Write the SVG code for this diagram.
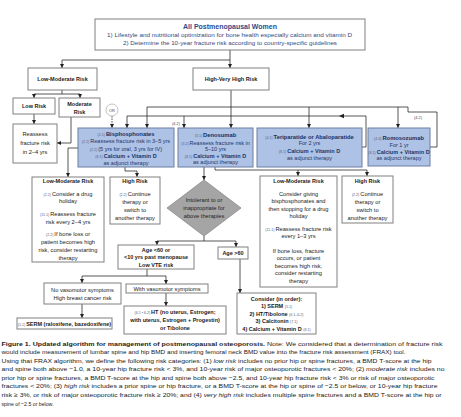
<svg xmlns="http://www.w3.org/2000/svg" width="461" height="417" viewBox="0 0 461 417">
<defs>
<marker id="ah" viewBox="0 0 6 6" refX="6" refY="3" markerWidth="4" markerHeight="4" markerUnits="userSpaceOnUse" orient="auto"><path d="M0,0 L6,3 L0,6 z" fill="#222"/></marker>
<style>
text{font-family:"Liberation Sans",Arial,sans-serif;}
.b{font-weight:bold}
.ref{font-size:3.6px;font-weight:normal;fill:#55627f}
.box{fill:#fff;stroke:#808080;stroke-width:1}
.blue{fill:#adc2e5;stroke:#6d7fa3;stroke-width:1}
.ln{fill:none;stroke:#2b2b2b;stroke-width:0.8}
.ar{marker-end:url(#ah)}
.wt{fill:#222;font-size:5.7px;text-anchor:middle}
.wh{fill:#1a1a1a;font-size:5.5px;font-weight:bold;text-anchor:middle}
.bt{fill:#1f3468;font-size:5.5px;text-anchor:middle}
.bh{fill:#1b2f63;font-size:5.8px;font-weight:bold}
.cap{fill:#1a1a1a;font-size:6.2px}
</style>
</defs>
<rect width="461" height="417" fill="#fff"/>

<g id="connectors">
<path class="ln ar" d="M230,50 V68"/>
<path class="ln ar" d="M230,60 H62 V68"/>
<path class="ln ar" d="M62,90 V94 H34 V98"/>
<path class="ln ar" d="M62,94 H80 V98"/>
<path class="ln ar" d="M34,114 V124"/>
<path class="ln ar" d="M71,117 V143 H57"/>
<path class="ln ar" d="M112,116 V128" stroke-dasharray="1.5,1"/>
<path class="ln ar" d="M231,90 V128"/>
<path class="ln" d="M147,107 H408"/>
<path class="ln ar" d="M147,107 V128"/>
<path class="ln ar" d="M309,107 V128"/>
<path class="ln ar" d="M398,107 V128"/>
<path class="ln" d="M430,147 H437 V112 H408 V107"/>
<path class="ln ar" d="M362,147 H366 V116 H127 V128"/>
<path class="ln ar" d="M184,116 V128"/>
<polygon points="339,116 344,113.8 344,118.2" fill="#222"/>
<path class="ln ar" d="M78,148 H68 V177"/>
<path class="ln ar" d="M125,167 V171 H137 V177"/>
<path class="ln ar" d="M204,167 V180"/>
<path class="ln ar" d="M215,167 V170 H367 V176"/>
<path class="ln ar" d="M298,170 V176"/>
<path class="ln" d="M204,236 V241 M157,241 H236"/>
<path class="ln ar" d="M157,241 V245"/>
<path class="ln ar" d="M236,241 V247"/>
<path class="ln ar" d="M240,259 V293"/>
<path class="ln" d="M147,269 V276 M82,276 H166"/>
<path class="ln ar" d="M82,276 V283"/>
<path class="ln ar" d="M166,276 V284"/>
<path class="ln ar" d="M82,304 V318"/>
<path class="ln ar" d="M166,293 V306"/>
<text x="176" y="125" font-size="3.8" fill="#444" text-anchor="middle">(4.2)</text>
<text x="418" y="119" font-size="3.8" fill="#444" text-anchor="middle">(4.2)</text>
</g>

<g id="n-all">
<rect x="95" y="19" width="270" height="31" class="box" stroke-width="1.3"/>
<text x="230" y="28.5" class="b" font-size="7" fill="#2f4a8a" text-anchor="middle">All Postmenopausal Women</text>
<text x="107" y="37" font-size="5.8" fill="#34497e" textLength="245" lengthAdjust="spacingAndGlyphs">1) Lifestyle and nutritional optimization for bone health especially calcium and vitamin D</text>
<text x="123" y="45" font-size="5.8" fill="#34497e" textLength="214" lengthAdjust="spacingAndGlyphs">2) Determine the 10-year fracture risk according to country-specific guidelines</text>
</g>

<g id="n-lowmod"><rect x="28" y="68" width="69" height="22" class="box"/><text x="62.5" y="81" class="wh">Low-Moderate Risk</text></g>
<g id="n-hvh"><rect x="193" y="68" width="76" height="22" class="box"/><text x="231" y="81" class="wh">High-Very High Risk</text></g>
<g id="n-low"><rect x="13" y="98" width="42" height="16" class="box"/><text x="34" y="108.3" class="wh">Low Risk</text></g>
<g id="n-mod"><rect x="59" y="98" width="41" height="19" class="box"/><text x="79.5" y="106" class="wh">Moderate</text><text x="79.5" y="114" class="wh">Risk</text></g>
<g id="n-or"><circle cx="112" cy="110" r="6" fill="#fff" stroke="#aaa" stroke-width="0.7"/><text x="112" y="111.5" font-size="4" fill="#444" text-anchor="middle">OR</text></g>
<g id="n-reassess"><rect x="13" y="124" width="44" height="39" class="box"/>
<text x="35" y="136" class="wt">Reassess</text><text x="35" y="145" class="wt">fracture risk</text><text x="35" y="153.5" class="wt">in 2–4 yrs</text></g>

<g id="n-bisph"><rect x="78" y="128" width="96" height="39" class="blue"/>
<text x="126" y="135.5" class="bt"><tspan class="ref">(2.1) </tspan><tspan class="bh">Bisphosphonates</tspan></text>
<text x="126" y="143" class="bt"><tspan class="ref">(2.2) </tspan>Reassess fracture risk in 3–5 yrs</text>
<text x="126" y="150.5" class="bt"><tspan class="ref">(2.2) </tspan>(5 yrs for oral, 3 yrs for IV)</text>
<text x="126" y="158" class="bt" font-size="5.3"><tspan class="ref">(8.1) </tspan><tspan class="b">Calcium + Vitamin D</tspan></text>
<text x="126" y="164.5" class="bt" font-size="5.2">as adjunct therapy</text></g>

<g id="n-deno"><rect x="178" y="128" width="75" height="39" class="blue"/>
<text x="215.5" y="137" class="bt"><tspan class="ref">(3.1) </tspan><tspan class="bh">Denosumab</tspan></text>
<text x="215.5" y="144.5" class="bt"><tspan class="ref">(3.2) </tspan>Reassess fracture risk in</text>
<text x="215.5" y="151" class="bt">5–10 yrs</text>
<text x="215.5" y="157.5" class="bt" font-size="5.3"><tspan class="ref">(8.1) </tspan><tspan class="b">Calcium + Vitamin D</tspan></text>
<text x="215.5" y="163.5" class="bt" font-size="5.2">as adjunct therapy</text></g>

<g id="n-teri"><rect x="257" y="128" width="105" height="39" class="blue"/>
<text x="309.5" y="138.5" class="bt"><tspan class="ref">(4.1) </tspan><tspan class="bh">Teriparatide or Abaloparatide</tspan></text>
<text x="309.5" y="145" class="bt">For 2 yrs</text>
<text x="309.5" y="153" class="bt" font-size="5.3"><tspan class="ref">(8.1) </tspan><tspan class="b">Calcium + Vitamin D</tspan></text>
<text x="309.5" y="159.5" class="bt" font-size="5.2">as adjunct therapy</text></g>

<g id="n-romo"><rect x="368" y="128" width="62" height="38" class="blue"/>
<text x="399" y="140" class="bt"><tspan class="ref">(4.3) </tspan><tspan class="bh">Romosozumab</tspan></text>
<text x="399" y="146.5" class="bt">For 1 yr</text>
<text x="399" y="153.5" class="bt" font-size="5"><tspan class="ref">(8.1) </tspan><tspan class="b">Calcium + Vitamin D</tspan></text>
<text x="399" y="159.5" class="bt" font-size="5">as adjunct therapy</text></g>

<g id="n-lm1"><rect x="32" y="177" width="72" height="85" class="box"/>
<text x="68" y="183" class="wh">Low-Moderate Risk</text>
<text x="68" y="196" class="wt"><tspan class="ref">(2.2) </tspan>Consider a drug</text>
<text x="68" y="203" class="wt">holiday</text>
<text x="68" y="216" class="wt"><tspan class="ref">(11.1) </tspan>Reassess fracture</text>
<text x="68" y="223.5" class="wt">risk every 2–4 yrs</text>
<text x="68" y="236" class="wt"><tspan class="ref">(2.2) </tspan>If bone loss or</text>
<text x="68" y="244" class="wt">patient becomes high</text>
<text x="68" y="252" class="wt">risk, consider restarting</text>
<text x="68" y="259.5" class="wt">therapy</text></g>

<g id="n-hr1"><rect x="110" y="177" width="50" height="47" class="box"/>
<text x="135" y="183" class="wh">High Risk</text>
<text x="135" y="196" class="wt"><tspan class="ref">(2.2) </tspan>Continue</text>
<text x="135" y="203.5" class="wt">therapy or</text>
<text x="135" y="211.5" class="wt">switch to</text>
<text x="135" y="219.5" class="wt">another therapy</text></g>

<g id="n-lm2"><rect x="260" y="176" width="77" height="111" class="box"/>
<text x="298.5" y="183" class="wh">Low-Moderate Risk</text>
<text x="298.5" y="195.5" class="wt">Consider giving</text>
<text x="298.5" y="203" class="wt">bisphosphonates and</text>
<text x="298.5" y="210.5" class="wt">then stopping for a drug</text>
<text x="298.5" y="218" class="wt">holiday</text>
<text x="298.5" y="230.5" class="wt"><tspan class="ref">(11.1) </tspan>Reassess fracture risk</text>
<text x="298.5" y="237.5" class="wt">every 1–3 yrs</text>
<text x="298.5" y="252.5" class="wt">If bone loss, fracture</text>
<text x="298.5" y="260" class="wt">occurs, or patient</text>
<text x="298.5" y="267.5" class="wt">becomes high risk,</text>
<text x="298.5" y="275" class="wt">consider restarting</text>
<text x="298.5" y="283" class="wt">therapy</text></g>

<g id="n-hr2"><rect x="342" y="176" width="51" height="47" class="box"/>
<text x="367.5" y="183" class="wh">High Risk</text>
<text x="367.5" y="196" class="wt"><tspan class="ref">(2.2) </tspan>Continue</text>
<text x="367.5" y="203.5" class="wt">therapy or</text>
<text x="367.5" y="211.5" class="wt">switch to</text>
<text x="367.5" y="219.5" class="wt">another therapy</text></g>

<g id="n-intol"><polygon points="204,180 241,208 204,236 167,208" fill="#a5a5a5" stroke="#8a8a8a" stroke-width="0.8"/>
<text x="204" y="201.5" class="wt" font-size="5.5">Intolerant to or</text>
<text x="204" y="210" class="wt" font-size="5.5">inappropriate for</text>
<text x="204" y="218" class="wt" font-size="5.5">above therapies</text></g>

<g id="n-age60a"><rect x="118" y="245" width="76" height="24" class="box"/>
<text x="156" y="251.5" class="wh">Age &lt;60 or</text>
<text x="156" y="259" class="wh">&lt;10 yrs past menopause</text>
<text x="156" y="266.5" class="wh">Low VTE risk</text></g>

<g id="n-age60b"><rect x="218" y="247" width="30" height="12" class="box"/><text x="233" y="255" class="wh">Age &gt;60</text></g>

<g id="n-novaso"><rect x="44" y="283" width="77" height="21" class="box"/>
<text x="82.5" y="292" class="wt" font-size="5.8">No vasomotor symptoms</text>
<text x="82.5" y="300" class="wt" font-size="5.8">High breast cancer risk</text></g>

<g id="n-vaso"><rect x="126" y="284" width="82" height="9" class="box"/>
<text x="167" y="290.8" class="wt" font-size="5.8">With vasomotor symptoms</text></g>

<g id="n-serm"><rect x="17" y="318" width="95" height="11" class="box"/>
<text x="64.5" y="325.6" class="wh"><tspan class="ref">(5.1) </tspan>SERM (raloxifene, bazedoxifene)</text></g>

<g id="n-ht"><rect x="124" y="306" width="102" height="28" class="box"/>
<text x="175" y="314" class="wh" font-size="5.3"><tspan class="ref">(6.1 • 6.2) </tspan>HT (no uterus, Estrogen;</text>
<text x="175" y="322" class="wh" font-size="5.3">with uterus, Estrogen + Progestin)</text>
<text x="175" y="330" class="wh" font-size="5.3">or Tibolone</text></g>

<g id="n-consider"><rect x="237" y="293" width="79" height="41" class="box"/>
<text x="276.5" y="300.5" class="wh">Consider (in order):</text>
<text x="276.5" y="308" class="wh">1) SERM <tspan class="ref">(5.1)</tspan></text>
<text x="276.5" y="315.5" class="wh">2) HT/Tibolone <tspan class="ref">(6.1–6.2)</tspan></text>
<text x="276.5" y="323" class="wh">3) Calcitonin <tspan class="ref">(7.1)</tspan></text>
<text x="276.5" y="330.5" class="wh">4) Calcium + Vitamin D <tspan class="ref">(8.1)</tspan></text></g>

<g id="caption">
<text x="1.5" y="345.5" class="cap" textLength="441" lengthAdjust="spacingAndGlyphs"><tspan class="b">Figure 1.  Updated algorithm for management of postmenopausal osteoporosis.</tspan> Note: We considered that a determination of fracture risk</text>
<text x="1.5" y="354" class="cap" textLength="404" lengthAdjust="spacingAndGlyphs">would include measurement of lumbar spine and hip BMD and inserting femoral neck BMD value into the fracture risk assessment (FRAX) tool.</text>
<text x="1.5" y="362.6" class="cap" textLength="430" lengthAdjust="spacingAndGlyphs">Using that FRAX algorithm, we define the following risk categories: (1) <tspan font-style="italic">low risk</tspan> includes no prior hip or spine fractures, a BMD T-score at the hip</text>
<text x="1.5" y="371.2" class="cap" textLength="443" lengthAdjust="spacingAndGlyphs">and spine both above −1.0, a 10-year hip fracture risk &lt; 3%, and 10-year risk of major osteoporotic fractures &lt; 20%; (2) <tspan font-style="italic">moderate risk</tspan> includes no</text>
<text x="1.5" y="379.8" class="cap" textLength="433" lengthAdjust="spacingAndGlyphs">prior hip or spine fractures, a BMD T-score at the hip and spine both above −2.5, and 10-year hip fracture risk &lt; 3% or risk of major osteoporotic</text>
<text x="1.5" y="388.4" class="cap" textLength="436" lengthAdjust="spacingAndGlyphs">fractures &lt; 20%; (3) <tspan font-style="italic">high risk</tspan> includes a prior spine or hip fracture, or a BMD T-score at the hip or spine of −2.5 or below, or 10-year hip fracture</text>
<text x="1.5" y="397" class="cap" textLength="440" lengthAdjust="spacingAndGlyphs">risk ≥ 3%, or risk of major osteoporotic fracture risk ≥ 20%; and (4) <tspan font-style="italic">very high risk</tspan> includes multiple spine fractures and a BMD T-score at the hip or</text>
<text x="1.5" y="405.6" class="cap" textLength="52" lengthAdjust="spacingAndGlyphs">spine of −2.5 or below.</text>
</g>
</svg>
